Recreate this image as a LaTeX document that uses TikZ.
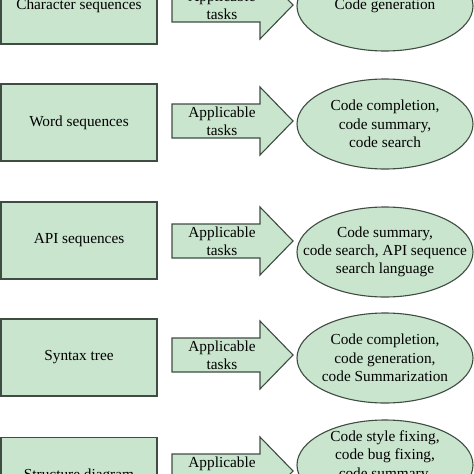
\documentclass[tikz,border=0pt]{standalone}
\usepackage{fontspec}
\setmainfont{Liberation Serif}
\usetikzlibrary{shapes.geometric}
\definecolor{boxfill}{RGB}{201,229,206}
\definecolor{boxline}{RGB}{62,76,66}
\tikzset{
  box/.style={draw=boxline, fill=boxfill, line width=1.3pt, minimum width=156pt, minimum height=77pt, inner sep=0pt},
  ell/.style={ellipse, draw=boxline, fill=boxfill, line width=1.1pt, minimum width=176pt, minimum height=90pt, inner sep=0pt},
  txt/.style={align=center, font=\fontsize{15.3}{18.3}\selectfont, inner sep=0pt},
  blk/.style={draw=boxline, fill=boxfill, line width=1.1pt, line join=miter},
  blockarrow/.pic={\path[blk] (-49,-17) -- (39,-17) -- (39,-34) -- (72,0) -- (39,34) -- (39,17) -- (-49,17) -- cycle;}
}
\begin{document}
\begin{tikzpicture}[x=1pt,y=-1pt]
\useasboundingbox (0,0) rectangle (474,474);
\clip (0,0) rectangle (474,474);
\fill[white] (0,0) rectangle (474,474);
% row 1
\node[box,txt] (r1) at (79,5.5) {Character sequences};
\pic at (221,5) {blockarrow};
\node[txt] (a1) at (222,5) {Applicable\\tasks};
\node[ell] (e1) at (385,6) {};
\node[txt] (t1) at (e1) {Code generation};
% row 2
\node[box,txt] (r2) at (79,122.5) {Word sequences};
\pic at (221,121) {blockarrow};
\node[txt] (a2) at (222,121) {Applicable\\tasks};
\node[ell] (e2) at (385,124) {};
\node[txt] (t2) at (e2) {Code completion,\\code summary,\\code search};
% row 3
\node[box,txt] (r3) at (79,240.5) {API sequences};
\pic at (221,241) {blockarrow};
\node[txt] (a3) at (222,241) {Applicable\\tasks};
\node[ell] (e3) at (385,252) {};
\node[txt] (t3) at (e3) {Code summary,\\code search, API sequence\\search language};
% row 4
\node[box,txt] (r4) at (79,357.5) {Syntax tree};
\pic at (221,355) {blockarrow};
\node[txt] (a4) at (222,355) {Applicable\\tasks};
\node[ell] (e4) at (385,358) {};
\node[txt] (t4) at (e4) {Code completion,\\code generation,\\code Summarization};
% row 5
\node[box,txt] (r5) at (79,476) {Structure diagram};
\pic at (221,471) {blockarrow};
\node[txt] (a5) at (222,471) {Applicable\\tasks};
\node[ell] (e5) at (385,465) {};
\node[txt] (t5) at (385,456) {Code style fixing,\\code bug fixing,\\code summary,};
\end{tikzpicture}
\end{document}
